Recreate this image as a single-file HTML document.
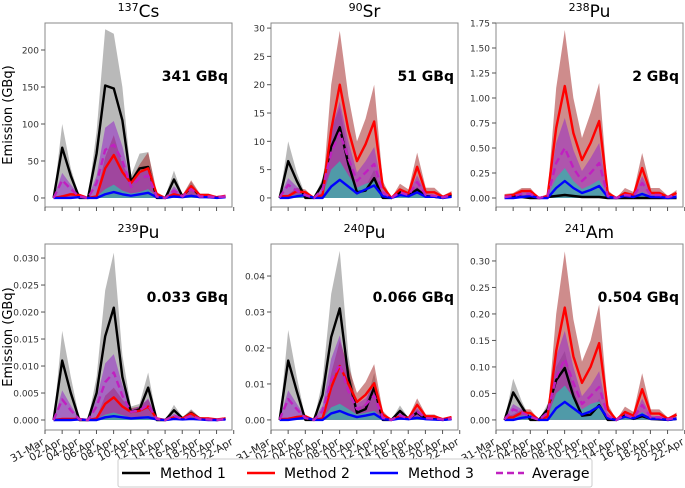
<!DOCTYPE html>
<html><head><meta charset="utf-8"><style>
body{margin:0;background:#fff;}
svg{display:block;font-family:"DejaVu Sans","Liberation Sans",sans-serif;}
</style></head><body>
<svg id="chart" width="685" height="488" viewBox="0 0 685 488"></svg>
<script>
const dateLabels=["31-Mar","02-Apr","04-Apr","06-Apr","08-Apr","10-Apr","12-Apr","14-Apr","16-Apr","18-Apr","20-Apr","22-Apr"];
const panelTitles=[["137","Cs"],["90","Sr"],["238","Pu"],["239","Pu"],["240","Pu"],["241","Am"]];
const totals=["341 GBq","51 GBq","2 GBq","0.033 GBq","0.066 GBq","0.504 GBq"];
const yTicks=[[0,50,100,150,200],[0,5,10,15,20,25,30],[0,0.25,0.5,0.75,1.0,1.25,1.5,1.75],[0,0.005,0.01,0.015,0.02,0.025,0.03],[0,0.01,0.02,0.03,0.04],[0,0.05,0.1,0.15,0.2,0.25,0.3]];
const yTickLabels=[["0","50","100","150","200"],["0","5","10","15","20","25","30"],["0.00","0.25","0.50","0.75","1.00","1.25","1.50","1.75"],["0.000","0.005","0.010","0.015","0.020","0.025","0.030"],["0.00","0.01","0.02","0.03","0.04"],["0.00","0.05","0.10","0.15","0.20","0.25","0.30"]];
const yLimits=[[-12.2,236.5],[-1.6,30.9],[-0.09,1.75],[-0.00185,0.0326],[-0.0028,0.0489],[-0.019,0.332]];

// Cs-137
const csM1=[0,68,30,0,0,60,152,148,105,22,40,42,0,0,25,2,15,3,1,1,2];
const csM1Hi=[0,100,40,2,0,90,228,222,150,30,60,62,5,2,37,4,22,5,2,2,3];
const csM2=[0,2,5,4,0,2,40,58,35,20,35,40,5,0,5,2,16,4,4,1,3];
const csM2Hi=[0,4,7,6,0,4,55,85,45,25,45,62,8,1,8,4,24,6,6,2,4];
const csM3=[0,0,0,1,0,0,5,8,5,3,5,7,1,0,2,1,3,1,1,0,1];
const csM3Hi=[0,1,1,2,0,2,12,18,10,6,8,12,2,0,3,1,4,1,1,0,1];
const csAvg=[0,24,12,2,0,20,65,72,50,15,27,30,2,0,10,2,12,2,2,1,2];
const csAvgHi=[0,34,18,4,0,30,95,104,70,20,35,40,4,0,16,3,16,3,2,1,2];
// Sr-90
const srM1=[0,6.5,3,0,0,2.5,9,12.5,6,1,1.3,3.5,0,0,1,0.5,1.5,0.3,0.2,0,0.5];
const srM1Hi=[0,10,4.5,0.5,0,3.5,12,16,8,1.5,2,5,0.3,0,1.5,0.8,2,0.5,0.3,0,0.8];
const srM2=[0.3,0.3,1.2,1,0,0.5,12,20,12,6.5,9.5,13.5,2,0,1.5,0.8,5.5,1,1,0.2,0.8];
const srM2Hi=[0.5,0.6,1.8,1.5,0,1,20,29.5,18,10,14,20,3,0,2.5,1.5,8,1.8,1.8,0.4,1.2];
const srM3=[0,0,0.3,0.5,0,0,2,3.2,2,0.8,1.5,2.2,0.3,0,0.5,0.3,1,0.2,0.2,0,0.2];
const srM3Hi=[0,0.3,0.6,0.8,0,0.5,5,6.5,4,1.8,2.5,3,0.5,0,0.8,0.4,1.5,0.3,0.2,0,0.3];
const srAvg=[0.1,2.3,1.3,0.5,0,1.5,8,11.5,7,3,4.5,6,1,0,1,0.5,2.8,0.5,0.4,0.1,0.5];
const srAvgHi=[0.2,3.5,2,0.8,0,2.5,12,17,10,4.5,6.5,9,1.5,0,1.5,0.8,4,0.8,0.6,0.2,0.7];
// Pu-238
const pu8M1=[0,0.02,0.01,0,0,0.01,0.02,0.03,0.02,0.01,0.01,0.01,0,0,0,0,0,0,0,0,0];
const pu8M1Hi=[0,0.03,0.02,0,0,0.02,0.03,0.05,0.03,0.02,0.02,0.02,0,0,0,0,0,0,0,0,0];
const pu8M2=[0.02,0.03,0.07,0.07,0,0.02,0.7,1.12,0.65,0.38,0.55,0.77,0.05,0,0.05,0.03,0.3,0.05,0.05,0.01,0.05];
const pu8M2Hi=[0.04,0.05,0.1,0.1,0,0.04,1.1,1.68,1.0,0.6,0.85,1.15,0.08,0,0.1,0.06,0.45,0.1,0.1,0.02,0.08];
const pu8M3=[0,0,0.01,0.02,0,0,0.1,0.17,0.1,0.05,0.08,0.12,0.01,0,0.02,0.01,0.04,0.01,0.01,0,0.01];
const pu8M3Hi=[0,0.01,0.02,0.03,0,0.02,0.2,0.3,0.17,0.09,0.13,0.18,0.02,0,0.03,0.02,0.06,0.02,0.01,0,0.02];
const pu8Avg=[0.01,0.02,0.04,0.04,0,0.02,0.35,0.5,0.3,0.17,0.25,0.35,0.02,0,0.03,0.02,0.15,0.03,0.03,0.01,0.03];
const pu8AvgHi=[0.02,0.03,0.06,0.06,0,0.04,0.55,0.8,0.48,0.27,0.4,0.55,0.04,0,0.05,0.03,0.22,0.05,0.05,0.02,0.05];
// Pu-239
const pu9M1=[0,0.011,0.005,0,0,0.005,0.0155,0.0208,0.008,0.0015,0.002,0.006,0,0,0.0018,0.0003,0.0013,0.0003,0.0002,0,0.0003];
const pu9M1Hi=[0,0.0165,0.008,0.0003,0,0.008,0.024,0.031,0.012,0.0025,0.003,0.0088,0.0002,0,0.0028,0.0005,0.002,0.0005,0.0003,0,0.0005];
const pu9M2=[0,0.0002,0.0002,0.0002,0,0.0003,0.003,0.0042,0.0025,0.0015,0.0017,0.0025,0.0003,0,0.0005,0.0003,0.0012,0.0003,0.0003,0.0001,0.0003];
const pu9M2Hi=[0,0.0003,0.0003,0.0003,0,0.0005,0.0045,0.006,0.0038,0.0022,0.0025,0.0038,0.0005,0,0.0008,0.0005,0.0018,0.0005,0.0005,0.0002,0.0005];
const pu9M3=[0,0,0,0.0001,0,0,0.0005,0.0007,0.0005,0.0003,0.0004,0.0005,0.0001,0,0.0002,0.0001,0.0002,0.0001,0,0,0.0001];
const pu9M3Hi=[0,0.0001,0.0001,0.0002,0,0.0002,0.001,0.0014,0.0009,0.0005,0.0006,0.0008,0.0002,0,0.0003,0.0001,0.0003,0.0001,0,0,0.0001];
const pu9Avg=[0,0.0038,0.0018,0.0001,0,0.0025,0.007,0.0088,0.0045,0.0015,0.0018,0.0028,0.0002,0,0.0008,0.0002,0.0008,0.0002,0.0001,0,0.0002];
const pu9AvgHi=[0,0.0055,0.0027,0.0002,0,0.004,0.0105,0.0122,0.0065,0.002,0.0025,0.004,0.0003,0,0.0012,0.0003,0.0012,0.0003,0.0002,0,0.0003];
// Pu-240
const pu0M1=[0,0.0165,0.008,0,0,0.007,0.023,0.031,0.012,0.002,0.003,0.009,0,0,0.0025,0.0003,0.002,0.0003,0.0002,0,0.0003];
const pu0M1Hi=[0,0.025,0.012,0.0005,0,0.011,0.035,0.047,0.018,0.003,0.0045,0.013,0.0003,0,0.004,0.0005,0.003,0.0005,0.0003,0,0.0005];
const pu0M2=[0.0002,0.0003,0.0008,0.001,0,0.0004,0.009,0.015,0.01,0.005,0.007,0.0102,0.0015,0,0.001,0.0005,0.0042,0.001,0.001,0.0002,0.0008];
const pu0M2Hi=[0.0004,0.0005,0.0012,0.0015,0,0.0008,0.013,0.022,0.015,0.0075,0.0105,0.0155,0.0025,0,0.0015,0.0008,0.006,0.0015,0.0015,0.0003,0.001];
const pu0M3=[0,0,0.0003,0.0006,0,0,0.0018,0.0025,0.0015,0.0008,0.0012,0.0017,0.0002,0,0.0004,0.0002,0.0006,0.0002,0.0001,0,0.0002];
const pu0M3Hi=[0,0.0003,0.0006,0.001,0,0.0005,0.0035,0.0045,0.003,0.0015,0.002,0.0025,0.0004,0,0.0006,0.0003,0.001,0.0003,0.0002,0,0.0003];
const pu0Avg=[0.0001,0.0058,0.003,0.0005,0,0.0025,0.011,0.0155,0.008,0.003,0.0042,0.0068,0.0006,0,0.0013,0.0003,0.0023,0.0005,0.0004,0.0001,0.0004];
const pu0AvgHi=[0.0002,0.0082,0.0045,0.0008,0,0.004,0.017,0.0235,0.012,0.0045,0.006,0.0095,0.001,0,0.002,0.0005,0.0033,0.0008,0.0006,0.0002,0.0006];
// Am-241
const amM1=[0,0.052,0.025,0,0,0.02,0.075,0.098,0.045,0.008,0.01,0.028,0,0,0.008,0.002,0.007,0.002,0.001,0,0.002];
const amM1Hi=[0,0.078,0.035,0.002,0,0.03,0.1,0.13,0.06,0.012,0.015,0.04,0.002,0,0.012,0.003,0.01,0.003,0.002,0,0.003];
const amM2=[0.004,0.005,0.014,0.013,0,0.006,0.13,0.212,0.12,0.07,0.1,0.145,0.02,0,0.015,0.008,0.058,0.012,0.012,0.002,0.01];
const amM2Hi=[0.007,0.01,0.02,0.02,0,0.01,0.2,0.318,0.19,0.11,0.15,0.218,0.03,0,0.025,0.015,0.088,0.02,0.02,0.004,0.014];
const amM3=[0,0,0.004,0.006,0,0,0.022,0.034,0.022,0.01,0.016,0.026,0.003,0,0.006,0.003,0.01,0.002,0.002,0,0.002];
const amM3Hi=[0,0.004,0.008,0.01,0,0.006,0.05,0.065,0.042,0.02,0.03,0.035,0.005,0,0.009,0.004,0.015,0.003,0.002,0,0.003];
const amAvg=[0.001,0.02,0.014,0.006,0,0.014,0.08,0.115,0.07,0.03,0.045,0.062,0.008,0,0.01,0.004,0.028,0.005,0.005,0.001,0.005];
const amAvgHi=[0.002,0.03,0.02,0.009,0,0.022,0.12,0.168,0.1,0.045,0.065,0.092,0.012,0,0.015,0.006,0.04,0.008,0.007,0.002,0.007];

const panelSeries=[
 [csM1,csM1Hi,csM2,csM2Hi,csM3,csM3Hi,csAvg,csAvgHi],
 [srM1,srM1Hi,srM2,srM2Hi,srM3,srM3Hi,srAvg,srAvgHi],
 [pu8M1,pu8M1Hi,pu8M2,pu8M2Hi,pu8M3,pu8M3Hi,pu8Avg,pu8AvgHi],
 [pu9M1,pu9M1Hi,pu9M2,pu9M2Hi,pu9M3,pu9M3Hi,pu9Avg,pu9AvgHi],
 [pu0M1,pu0M1Hi,pu0M2,pu0M2Hi,pu0M3,pu0M3Hi,pu0Avg,pu0AvgHi],
 [amM1,amM1Hi,amM2,amM2Hi,amM3,amM3Hi,amAvg,amAvgHi]];
const panelNames=["cs137","sr90","pu238","pu239","pu240","am241"];

const NS="http://www.w3.org/2000/svg";
const svg=document.getElementById("chart");
function mk(tag,attrs,parent){const e=document.createElementNS(NS,tag);for(const k in attrs)e.setAttribute(k,attrs[k]);(parent||svg).appendChild(e);return e;}

const lefts=[45,271,496];
const W=187;
const tops=[23,244], bottoms=[207,430];

panelNames.forEach((nm,p)=>{
  const col=p%3,row=Math.floor(p/3);
  const L=lefts[col],T=tops[row],B=bottoms[row];
  const [ymin,ymax]=yLimits[p];
  const xs=i=>L+(i+1)*W/21.75;
  const ys=v=>B-(v-ymin)/(ymax-ymin)*(B-T);
  const g=mk("g",{});
  
  
  const S=panelSeries[p];
  const band=(hi,fill,name)=>{
    let d="M"+xs(0)+","+ys(0);
    hi.forEach((v,i)=>{d+=" L"+xs(i)+","+ys(v);});
    d+=" L"+xs(hi.length-1)+","+ys(0)+" Z";
    const e=mk("path",{d:d,fill:fill,stroke:"none"},g);
    
    
  };
  const line=(vals,color,name,dash)=>{
    const d=vals.map((v,i)=>(i?"L":"M")+xs(i)+","+ys(v)).join(" ");
    const e=mk("path",{d:d,fill:"none",stroke:color,"stroke-width":2.4,"stroke-linejoin":"round"},g);
    if(dash)e.setAttribute("stroke-dasharray","7,4");
    
    
  };
  band(S[1],"rgba(128,128,128,0.55)","method1-band");
  band(S[3],"rgba(165,45,45,0.55)","method2-band");
  band(S[7],"rgba(150,40,200,0.55)","average-band");
  band(S[5],"rgba(60,175,170,0.8)","method3-band");
  line(S[0],"#000","method1-line");
  line(S[2],"#ff0000","method2-line");
  line(S[4],"#0000ff","method3-line");
  line(S[6],"#c020c0","average-line",true);
  const fr=mk("rect",{x:L,y:T,width:W,height:B-T,fill:"none",stroke:"#888","stroke-width":1},g);
  
  
  yTicks[p].forEach((v,k)=>{
    const y=ys(v);
    mk("line",{x1:L-4,x2:L,y1:y,y2:y,stroke:"#555"},g);
    const t=mk("text",{x:L-6,y:y+3.5,"text-anchor":"end","font-size":9,fill:"#333"},g);
    t.textContent=yTickLabels[p][k];
    
    
  });
  dateLabels.forEach((lab,k)=>{
    const x=L+k*W/10.9;
    mk("line",{x1:x,x2:x,y1:B,y2:B+4,stroke:"#555"},g);
    if(row===1){
      const t=mk("text",{x:x,y:B+14,"text-anchor":"end","font-size":10.5,fill:"#222",transform:"rotate(-30 "+x+" "+(B+14)+")"},g);
      t.textContent=lab;
      
      
    }
  });
  const tt=mk("text",{x:L+W/2,y:T-6,"text-anchor":"middle","font-size":17,fill:"#000"},g);
  const sup=mk("tspan",{"font-size":11,dy:-6},tt);sup.textContent=panelTitles[p][0];
  const base=mk("tspan",{dy:6},tt);base.textContent=panelTitles[p][1];
  
  
  const at=mk("text",{x:L+W-4,y:T+58,"text-anchor":"end","font-size":14,"font-weight":"bold",fill:"#000"},g);
  at.textContent=totals[p];
  
  
  if(col===0){
    const yt=mk("text",{x:0,y:0,"text-anchor":"middle","font-size":13,fill:"#000",transform:"translate(12,"+((T+B)/2)+") rotate(-90)"},g);
    yt.textContent="Emission (GBq)";
    
    
  }
});

// legend
const lg=mk("g",{});


mk("rect",{x:118,y:459,width:474,height:28,fill:"#fff",stroke:"#ccc",rx:2},lg);
const legItems=[["Method 1","#000",122,160,false],["Method 2","#ff0000",247,284,false],["Method 3","#0000ff",370,408,false],["Average","#c020c0",496,532,true]];
legItems.forEach(it=>{
  const l=mk("line",{x1:it[2],x2:it[2]+28,y1:473,y2:473,stroke:it[1],"stroke-width":2.5},lg);
  if(it[4])l.setAttribute("stroke-dasharray","7,4");
  
  
  const t=mk("text",{x:it[3],y:478,"font-size":14,fill:"#000"},lg);
  t.textContent=it[0];
  
  
});
</script>
</body></html>
